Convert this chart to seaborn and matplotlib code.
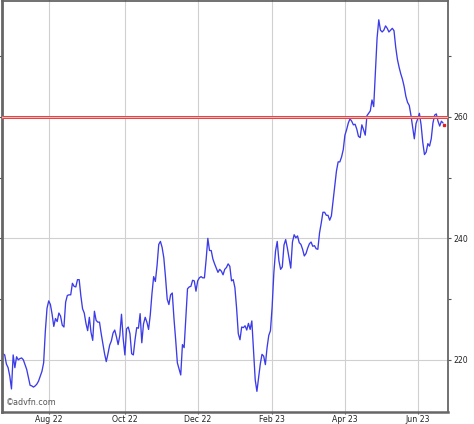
import matplotlib
matplotlib.use("Agg")
from matplotlib import pyplot as plt
from matplotlib.ticker import MultipleLocator
import pandas as pd
import seaborn as sns

# daily closes, one per business day from 23 Jun 2022
start_date = "2022-06-23"
closes = [
    221.0, 220.8, 219.3, 218.7, 217.3, 215.2, 220.8, 218.7, 220.5, 220.0,
    220.2, 220.3, 220.0, 219.2, 218.4, 217.1, 215.8, 215.7, 215.5, 215.7,
    216.0, 216.5, 217.3, 218.1, 219.5, 224.7, 228.5, 229.7, 229.1, 227.5,
    225.5, 226.8, 226.3, 227.7, 227.2, 225.7, 225.4, 229.5, 230.6, 230.7,
    230.7, 232.6, 232.1, 232.0, 233.2, 233.2, 230.5, 228.4, 227.7, 226.0,
    224.8, 227.0, 224.5, 223.2, 228.0, 226.5, 226.2, 226.2, 224.3, 222.7,
    221.0, 219.7, 221.0, 222.4, 223.1, 224.4, 224.9, 223.8, 222.5, 224.0,
    227.5, 223.5, 220.8, 225.1, 225.4, 224.3, 221.0, 220.8, 223.3, 225.3,
    225.2, 227.6, 222.8, 225.9, 227.0, 226.2, 225.0, 227.4, 230.9, 233.7,
    232.9, 235.5, 239.0, 239.5, 238.5, 236.8, 233.6, 230.0, 229.1, 230.7,
    231.0, 226.8, 223.3, 219.5, 218.5, 217.5, 222.5, 222.0, 226.9, 231.7,
    232.0, 232.1, 233.1, 233.0, 231.3, 233.0, 233.5, 233.7, 233.5, 233.5,
    236.5, 240.0, 238.0, 238.0, 236.6, 235.8, 235.1, 234.4, 234.9, 234.6,
    234.0, 234.9, 235.2, 235.8, 235.4, 233.0, 233.2, 231.9, 228.5, 224.3,
    223.3, 225.4, 225.3, 225.6, 224.9, 226.0, 225.0, 226.4, 221.5, 216.7,
    214.8, 217.0, 219.3, 220.9, 220.6, 219.2, 222.0, 224.0, 224.8, 228.7,
    234.3, 237.9, 239.5, 236.3, 234.9, 235.3, 238.9, 239.8, 238.4, 236.8,
    235.1, 239.4, 240.6, 240.1, 240.4, 239.3, 239.0, 238.2, 237.1, 237.5,
    238.4, 239.1, 239.4, 238.7, 238.8, 238.3, 238.2, 240.9, 242.5, 244.3,
    244.3, 243.8, 243.8, 243.0, 243.7, 246.2, 248.8, 251.1, 252.6, 252.6,
    253.4, 254.6, 257.0, 257.9, 259.0, 259.7, 259.3, 258.7, 258.8, 258.0,
    256.8, 256.6, 258.7, 257.9, 257.0, 260.2, 260.6, 261.0, 262.8, 261.7,
    267.5, 273.0, 276.0, 274.3, 274.0, 274.3, 275.0, 274.6, 274.0, 274.3,
    274.6, 274.2, 271.5, 269.5, 268.2, 267.1, 266.2, 265.0, 263.4, 262.4,
    261.9, 260.3, 258.3, 256.4, 258.9, 259.7, 260.6, 258.7, 255.8, 253.8,
    254.2, 255.6, 255.2, 256.4, 259.0, 260.3, 260.5, 259.3, 258.5, 259.3,
    259.0,
]
ref_price = 260.0
tick_months = ["2022-08-01", "2022-10-01", "2022-12-01", "2023-02-01", "2023-04-01", "2023-06-01"]
major_y = [220, 240, 260]

dates = pd.bdate_range(start_date, periods=len(closes))
df = pd.DataFrame({"pos": range(len(closes)), "close": closes, "date": dates})

sns.set_style("white")
plt.rcParams["font.family"] = ["DejaVu Sans"]

fig = plt.figure(figsize=(4.74, 4.24), dpi=100)
ax = fig.add_axes([2 / 474, 12 / 424, 446 / 474, 411 / 424])

sns.lineplot(data=df, x="pos", y="close", ax=ax, color="#3b3be8", linewidth=0.95)

# reference line at 260
ax.axhline(ref_price, color="#f2b8b8", linewidth=2.2, zorder=3)
ax.axhline(ref_price + 0.13, color="#e03030", linewidth=0.6, zorder=3)
ax.axhline(ref_price - 0.13, color="#e03030", linewidth=0.6, zorder=3)

# last price marker
ax.plot(df["pos"].iloc[-1] + 0.8, df["close"].iloc[-1] - 0.3, marker="s", markersize=1.6,
        color="#e02020", zorder=5, linestyle="none")

tick_pos = [int(df.index[df["date"] >= pd.Timestamp(m)][0]) for m in tick_months]
tick_lbl = [pd.Timestamp(m).strftime("%b %y") for m in tick_months]
ax.set_xticks(tick_pos)
ax.set_xticklabels(tick_lbl)
ax.set_yticks(major_y)
ax.yaxis.set_minor_locator(MultipleLocator(10))
ax.set_xlim(-0.6, 262.9)
ax.set_ylim(211.4, 279.1)

ax.grid(True, which="major", color="#d0d0d0", linewidth=0.8)
ax.set_axisbelow(True)
ax.tick_params(axis="x", which="major", bottom=True, top=True, length=1.5, width=0.8,
               color="#555555", labelsize=5.6, pad=0.3, labelcolor="#222222")
ax.tick_params(axis="y", which="both", left=True, right=True, labelleft=False,
               labelright=True, length=2.5, width=0.8, color="#555555",
               labelsize=5.6, pad=1.2, labelcolor="#222222")
ax.set_xlabel("")
ax.set_ylabel("")

for side in ["left", "bottom", "right", "top"]:
    ax.spines[side].set_color("#666666")
ax.spines["left"].set_linewidth(2.0)
ax.spines["bottom"].set_linewidth(1.8)
ax.spines["right"].set_linewidth(1.3)
ax.spines["top"].set_linewidth(1.3)

ax.text(0.008, 0.012, "\u00a9advfn.com", transform=ax.transAxes, fontsize=5.8,
        color="#555555", ha="left", va="bottom")

fig.savefig("out.png", dpi=100, facecolor="white")
